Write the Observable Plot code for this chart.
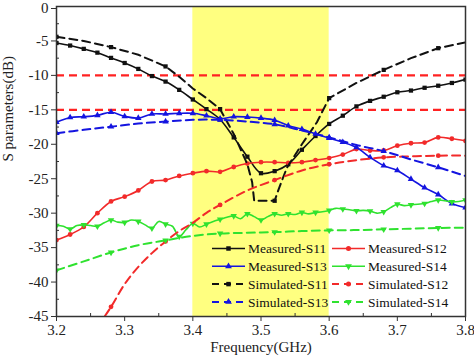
<!DOCTYPE html>
<html><head><meta charset="utf-8">
<script src="https://cdn.jsdelivr.net/npm/d3@7"></script>
<script src="https://cdn.jsdelivr.net/npm/@observablehq/plot@0.6"></script>
<style>
body{margin:0;background:#fff}
#chart{width:474px;height:362px}
</style>
</head><body><div id="chart"></div>
<script>
// ---------- data ----------
const freqMeasured = [3.20,3.22,3.24,3.26,3.28,3.30,3.32,3.34,3.36,3.38,3.40,3.42,3.44,3.46,3.48,3.50,3.52,3.54,3.56,3.58,3.60,3.62,3.64,3.66,3.68,3.70,3.72,3.74,3.76,3.78,3.80];
const measuredS11 = [-5.3,-5.67,-6.15,-6.7,-7.46,-8.2,-9.06,-10.1,-10.9,-12.1,-13.5,-14.9,-16.4,-19.0,-21.8,-24.2,-23.9,-22.9,-20.8,-18.8,-17.05,-15.85,-14.5,-13.7,-13.1,-12.45,-12.2,-11.8,-11.5,-11.1,-10.6];
const measuredS12 = [-33.9,-33.1,-32.0,-30.0,-28.3,-27.6,-26.7,-25.4,-25.2,-24.6,-24.2,-23.9,-24.0,-23.3,-22.8,-22.6,-22.6,-22.7,-22.6,-22.3,-22.0,-21.5,-20.7,-20.9,-20.9,-20.2,-19.85,-19.75,-19.0,-19.2,-19.5];
const measuredS13 = [-16.8,-16.1,-16.0,-15.8,-15.35,-15.95,-16.2,-15.6,-15.6,-15.5,-15.5,-15.85,-16.3,-16.0,-16.05,-16.2,-16.5,-17.3,-17.8,-18.5,-19.1,-19.7,-20.45,-21.9,-23.1,-23.8,-25.05,-26.3,-27.3,-28.6,-29.2];
const freqS14 = [3.20,3.21,3.22,3.23,3.24,3.25,3.26,3.27,3.28,3.29,3.30,3.31,3.32,3.33,3.34,3.35,3.36,3.37,3.38,3.39,3.40,3.41,3.42,3.43,3.44,3.45,3.46,3.47,3.48,3.49,3.50,3.51,3.52,3.53,3.54,3.55,3.56,3.57,3.58,3.59,3.60,3.61,3.62,3.63,3.64,3.65,3.66,3.67,3.68,3.69,3.70,3.71,3.72,3.73,3.74,3.75,3.76,3.77,3.78,3.79,3.80];
const measuredS14 = [-31.8,-31.9,-32.3,-31.8,-31.7,-31.8,-31.9,-31.4,-31.0,-31.3,-31.35,-31.0,-31.2,-31.7,-32.2,-31.2,-31.6,-31.9,-33.4,-32.4,-31.5,-32.0,-31.6,-31.2,-30.9,-30.6,-30.4,-30.8,-30.1,-30.5,-31.0,-30.5,-30.1,-30.3,-30.1,-30.2,-29.9,-30.1,-29.9,-29.8,-29.6,-29.3,-29.4,-29.5,-29.65,-29.6,-29.7,-30.0,-29.8,-29.2,-28.7,-28.9,-28.8,-28.7,-28.6,-28.3,-28.1,-28.2,-28.35,-28.3,-28.1];

const freqSimS11 = [3.20,3.24,3.28,3.32,3.36,3.38,3.40,3.42,3.44,3.46,3.48,3.487,3.49,3.52,3.526,3.538,3.56,3.582,3.60,3.64,3.68,3.72,3.76,3.80];
const simulatedS11 = [-4.4,-5.0,-5.9,-7.0,-8.7,-10.2,-11.9,-13.3,-14.9,-18.5,-22.9,-25.5,-28.2,-28.2,-26.5,-23.4,-20.0,-16.8,-13.3,-11.1,-9.2,-7.5,-6.05,-5.2];
const freqSimS12 = [3.26,3.28,3.30,3.32,3.34,3.36,3.38,3.40,3.42,3.44,3.48,3.52,3.56,3.60,3.64,3.68,3.72,3.76,3.80];
const simulatedS12 = [-46.5,-43.6,-40.3,-37.8,-35.8,-34.1,-32.6,-31.4,-29.95,-28.8,-26.7,-25.2,-23.8,-22.9,-22.3,-21.9,-21.75,-21.65,-21.65];
const freqSim = [3.20,3.24,3.28,3.32,3.36,3.40,3.44,3.48,3.52,3.56,3.60,3.64,3.68,3.72,3.76,3.80];
const simulatedS13 = [-18.4,-17.9,-17.45,-17.0,-16.7,-16.45,-16.45,-16.7,-17.1,-18.0,-19.0,-20.1,-21.0,-22.2,-23.35,-24.6];
const simulatedS14 = [-38.3,-37.0,-35.7,-34.65,-33.95,-33.3,-32.95,-32.85,-32.75,-32.6,-32.5,-32.45,-32.35,-32.25,-32.15,-32.1];
const simMarkerFreqs = [3.20,3.28,3.36,3.44,3.52,3.60,3.68,3.76];

const bandRange = [{x1: 3.4, x2: 3.6}];
const thresholds = [-10, -15];
const xTicks = [3.2,3.3,3.4,3.5,3.6,3.7,3.8];
const xMinorTicks = [3.25,3.35,3.45,3.55,3.65,3.75];
const yTicks = [-5,-10,-15,-20,-25,-30,-35,-40,-45];
const yTopTick = [0];
const yMinorTicks = [-2.5,-7.5,-12.5,-17.5,-22.5,-27.5,-32.5,-37.5,-42.5];

// ---------- styles ----------
const BLACK = "#111", RED = "#f22a2a", BLUE = "#1414e0", GREEN = "#2fe22f";
const DASH = "8,5";
const series = [
  {name:"Measured-S11", f:freqMeasured, v:measuredS11, color:BLACK, dash:null, symbol:"square", rot:0, curve:"catmull-rom", sim:false},
  {name:"Measured-S12", f:freqMeasured, v:measuredS12, color:RED, dash:null, symbol:"circle", rot:0, curve:"catmull-rom", sim:false},
  {name:"Measured-S13", f:freqMeasured, v:measuredS13, color:BLUE, dash:null, symbol:"triangle", rot:0, curve:"catmull-rom", sim:false},
  {name:"Measured-S14", f:freqS14, v:measuredS14, color:GREEN, dash:null, symbol:"triangle", rot:180, curve:"catmull-rom", sim:false},
  {name:"Simulated-S11", f:freqSimS11, v:simulatedS11, color:BLACK, dash:DASH, symbol:"square", rot:0, curve:"linear", sim:true},
  {name:"Simulated-S12", f:freqSimS12, v:simulatedS12, color:RED, dash:DASH, symbol:"circle", rot:0, curve:"catmull-rom", sim:true},
  {name:"Simulated-S13", f:freqSim, v:simulatedS13, color:BLUE, dash:DASH, symbol:"triangle", rot:0, curve:"catmull-rom", sim:true},
  {name:"Simulated-S14", f:freqSim, v:simulatedS14, color:GREEN, dash:DASH, symbol:"triangle", rot:180, curve:"catmull-rom", sim:true}
];

const seriesMarks = [];
for (const s of series) {
  const data = s.f.map((f, i) => ({f, v: s.v[i]}));
  seriesMarks.push(Plot.line(data, {x:"f", y:"v", stroke:s.color, strokeWidth: s.sim ? 2 : 1.6, strokeDasharray: s.dash, curve: s.curve, clip: true}));
  const marks = s.sim
    ? data.filter(d => simMarkerFreqs.some(m => Math.abs(m - d.f) < 1e-6))
    : data.filter(d => Math.round(d.f * 100) % 2 === 0);
  seriesMarks.push(Plot.dot(marks, {x:"f", y:"v", fill:s.color, stroke:"none", r:2.4, symbol:s.symbol, rotate:s.rot, clip: true}));
}

const FONT = '"Liberation Serif", "Times New Roman", Times, serif';

const chart = Plot.plot({
  width: 474, height: 362,
  marginLeft: 56, marginRight: 9, marginTop: 6, marginBottom: 46,
  style: {fontFamily: FONT, fontSize: "15px", background: "#fff", color: "#222"},
  x: {domain: [3.2, 3.8]},
  y: {domain: [-45, 0]},
  marks: [
    Plot.rect(bandRange, {x1:"x1", x2:"x2", fill:"#ffff80"}),
    Plot.ruleY(thresholds, {stroke: "#ff2222", strokeWidth: 2.2, strokeDasharray: DASH}),
    ...seriesMarks,
    Plot.frame({stroke:"#333", strokeWidth:1.5}),
    Plot.axisX({ticks: xTicks, tickSize: 5, tickPadding: 3, tickFormat: d => d.toFixed(1), label: null, stroke:"#333", fontSize: 15}),
    Plot.axisX({ticks: xMinorTicks, tickSize: 3, dy: -3, tickFormat: () => "", label: null, stroke:"#333"}),
    Plot.axisY({ticks: yTicks, tickSize: 5, tickPadding: 3, tickFormat: d => String(d), label: null, stroke:"#333", fontSize: 15}),
    Plot.axisY({ticks: yTopTick, tickSize: 5, tickPadding: 3, tickFormat: d => String(d), label: null, stroke:"#333", fontSize: 15, textStroke: "none", dy: 2}),
    Plot.axisY({ticks: yMinorTicks, tickSize: 3, dx: 3, tickFormat: () => "", label: null, stroke:"#333"}),
    Plot.text(["Frequency(GHz)"], {frameAnchor: "bottom", dy: 35, fontSize: 15, fill: "#222"}),
    Plot.text(["S parameters(dB)"], {frameAnchor: "left", dx: -48, rotate: -90, fontSize: 15, fill: "#222"})
  ]
});
document.getElementById("chart").appendChild(chart);

// ---------- legend (inside the plot area) ----------
const svg = d3.select(chart);
const lg = svg.append("g").attr("font-family", FONT).attr("font-size", 13.5).attr("text-anchor", "start");
const colX = [212, 332], rowY0 = 248.5, rowStep = 17.8, sampleW = 33;
const symMap = {square: d3.symbolSquare, circle: d3.symbolCircle, triangle: d3.symbolTriangle};
series.forEach((s, i) => {
  const x0 = colX[i % 2], y = rowY0 + Math.floor(i / 2) * rowStep;
  lg.append("line").attr("x1", x0).attr("x2", x0 + sampleW).attr("y1", y).attr("y2", y)
    .attr("stroke", s.color).attr("stroke-width", s.sim ? 2 : 1.6)
    .attr("stroke-dasharray", s.sim ? "7,5" : null);
  lg.append("path").attr("d", d3.symbol(symMap[s.symbol], 20)())
    .attr("transform", `translate(${x0 + sampleW / 2},${y}) rotate(${s.rot})`).attr("fill", s.color);
  lg.append("text").attr("x", x0 + 36).attr("y", y + 4.8).attr("fill", "#111").attr("text-anchor", "start").text(s.name);
});
</script>
</body></html>
